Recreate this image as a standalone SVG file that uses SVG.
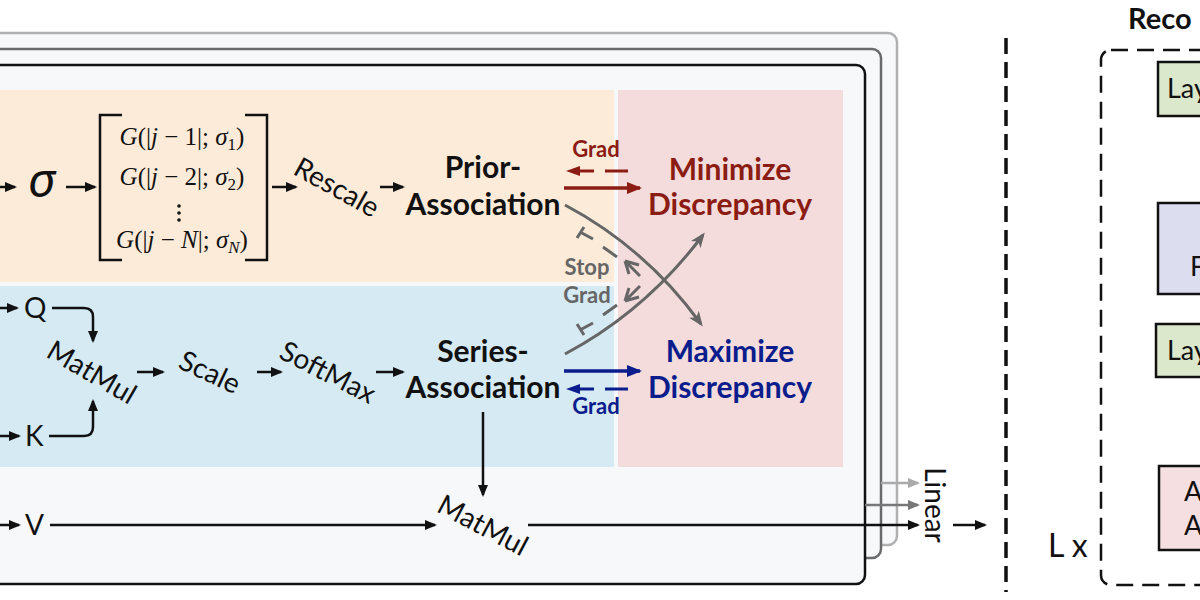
<svg xmlns="http://www.w3.org/2000/svg" width="1200" height="600" viewBox="0 0 1200 600">
<defs>
<style>
.t{font-family:Lato,"Open Sans","Liberation Sans",sans-serif;fill:#111}
.r{font-size:28px}
.big{font-size:30px;font-weight:bold;text-anchor:middle}
.g{font-size:22px;font-weight:bold;text-anchor:middle}
.m{font-family:"Liberation Serif","DejaVu Serif",serif;font-size:25px;fill:#111}
.i{font-style:italic}
.ln{stroke:#111;stroke-width:2.5;fill:none}
.frame{fill:#f7f8fa;stroke-width:2.5}
.box{stroke:#111;stroke-width:2.5}
.gc{stroke:#666;stroke-width:3;fill:none}
.red{fill:#8b1c13}
.blue{fill:#0b1d8c}
.gray{fill:#666}
</style>
<marker id="ah" markerUnits="userSpaceOnUse" markerWidth="13" markerHeight="10" refX="10" refY="5" orient="auto"><path d="M0,0 L12,5 L0,10 z" fill="#111"/></marker>
<marker id="ahg1" markerUnits="userSpaceOnUse" markerWidth="13" markerHeight="10" refX="10" refY="5" orient="auto"><path d="M0,0 L12,5 L0,10 z" fill="#777"/></marker>
<marker id="ahg2" markerUnits="userSpaceOnUse" markerWidth="13" markerHeight="10" refX="10" refY="5" orient="auto"><path d="M0,0 L12,5 L0,10 z" fill="#aaa"/></marker>
<marker id="ahs" markerUnits="userSpaceOnUse" markerWidth="15" markerHeight="12" refX="12" refY="6" orient="auto"><path d="M0,0 L15,6 L0,12 L4,6 z" fill="#666"/></marker>
<marker id="ahr" markerUnits="userSpaceOnUse" markerWidth="15" markerHeight="12" refX="13" refY="6" orient="auto"><path d="M0,0 L15,6 L0,12 z" fill="#8b1c13"/></marker>
<marker id="ahb" markerUnits="userSpaceOnUse" markerWidth="15" markerHeight="12" refX="13" refY="6" orient="auto"><path d="M0,0 L15,6 L0,12 z" fill="#0b1d8c"/></marker>
</defs>

<!-- stacked frames -->
<g id="frames">
<rect class="frame" x="-20" y="33" width="917" height="512" rx="9" stroke="#b0b0b0"/>
<rect class="frame" x="-20" y="49" width="901" height="509" rx="9" stroke="#6a6a6a"/>
<rect class="frame" x="-20" y="65" width="885" height="519" rx="9" stroke="#111"/>
</g>

<g id="regions">
<rect x="-20" y="90" width="634" height="192" fill="#fcebd9"/>
<rect x="-20" y="286" width="634" height="181" fill="#d5eaf3"/>
<rect x="618" y="90" width="225" height="377" fill="#f5dcdc"/>
</g>

<g id="node-sigma"><text x="28" y="197" font-family="'Noto Sans','DejaVu Sans',sans-serif" font-style="italic" font-size="48" fill="#111">σ</text></g>

<g id="node-matrix">
<path class="ln" d="M122,115 H100 V260 H122 M245,115 H267 V260 H245"/>
<text class="m" x="182" y="145" text-anchor="middle"><tspan class="i">G</tspan>(|<tspan class="i">j</tspan> − 1|; <tspan class="i">σ</tspan><tspan font-size="17" dy="5">1</tspan><tspan dy="-5">)</tspan></text>
<text class="m" x="182" y="185" text-anchor="middle"><tspan class="i">G</tspan>(|<tspan class="i">j</tspan> − 2|; <tspan class="i">σ</tspan><tspan font-size="17" dy="5">2</tspan><tspan dy="-5">)</tspan></text>
<circle cx="179" cy="206" r="1.8" fill="#111"/><circle cx="179" cy="213" r="1.8" fill="#111"/><circle cx="179" cy="220" r="1.8" fill="#111"/>
<text class="m" x="182" y="248" text-anchor="middle"><tspan class="i">G</tspan>(|<tspan class="i">j</tspan> − <tspan class="i">N</tspan>|; <tspan class="i">σ</tspan><tspan class="i" font-size="17" dy="5">N</tspan><tspan dy="-5">)</tspan></text>
</g>

<g id="node-rescale"><text class="t r" text-anchor="middle" transform="translate(337,187) rotate(29)" y="10">Rescale</text></g>

<g id="node-prior"><text class="t big" x="483" y="178">Prior-</text><text class="t big" x="483" y="215">Association</text></g>
<g id="node-minimize"><text class="t big red" x="730" y="180">Minimize</text><text class="t big red" x="730" y="215">Discrepancy</text></g>
<g id="node-series"><text class="t big" x="483" y="362">Series-</text><text class="t big" x="483" y="398">Association</text></g>
<g id="node-maximize"><text class="t big blue" x="730" y="362">Maximize</text><text class="t big blue" x="730" y="398">Discrepancy</text></g>

<g id="node-q"><text class="t r" x="24" y="318">Q</text></g>
<g id="node-k"><text class="t r" x="25" y="446">K</text></g>
<g id="node-v"><text class="t r" x="25" y="535">V</text></g>
<g id="node-matmul1"><text class="t r" text-anchor="middle" transform="translate(92,372) rotate(30)" y="10">MatMul</text></g>
<g id="node-scale"><text class="t r" text-anchor="middle" transform="translate(210,372) rotate(25)" y="10">Scale</text></g>
<g id="node-softmax"><text class="t r" text-anchor="middle" transform="translate(328,372) rotate(27)" y="10">SoftMax</text></g>
<g id="node-matmul2"><text class="t r" text-anchor="middle" transform="translate(483,525) rotate(28)" y="10">MatMul</text></g>
<g id="node-linear"><text class="t r" text-anchor="middle" transform="translate(935,505) rotate(90)" y="10">Linear</text></g>

<g id="labels">
<text class="t g red" x="596" y="157">Grad</text>
<text class="t g blue" x="596" y="414">Grad</text>
<text class="t g gray" x="587" y="275">Stop</text>
<text class="t g gray" x="587" y="303">Grad</text>
</g>

<g id="connectors">
<line class="ln" x1="-2" y1="187" x2="15" y2="187" marker-end="url(#ah)"/>
<line class="ln" x1="66" y1="187" x2="95" y2="187" marker-end="url(#ah)"/>
<line class="ln" x1="272" y1="187" x2="296" y2="187" marker-end="url(#ah)"/>
<line class="ln" x1="380" y1="187" x2="403" y2="187" marker-end="url(#ah)"/>
<line class="ln" x1="-2" y1="308" x2="17" y2="308" marker-end="url(#ah)"/>
<path class="ln" d="M52,308 H84 Q93,308 93,317 V341" marker-end="url(#ah)"/>
<line class="ln" x1="-2" y1="436" x2="19" y2="436" marker-end="url(#ah)"/>
<path class="ln" d="M49,436 H84 Q93,436 93,427 V401" marker-end="url(#ah)"/>
<line class="ln" x1="137" y1="372" x2="163" y2="372" marker-end="url(#ah)"/>
<line class="ln" x1="257" y1="372" x2="281" y2="372" marker-end="url(#ah)"/>
<line class="ln" x1="376" y1="372" x2="403" y2="372" marker-end="url(#ah)"/>
<line class="ln" x1="-2" y1="525" x2="19" y2="525" marker-end="url(#ah)"/>
<line class="ln" x1="50" y1="525" x2="435" y2="525" marker-end="url(#ah)"/>
<line class="ln" x1="483" y1="412" x2="483" y2="495" marker-end="url(#ah)"/>
<line class="ln" x1="528" y1="525" x2="918" y2="525" marker-end="url(#ah)"/>
<line stroke="#777" stroke-width="2.5" x1="865" y1="505" x2="918" y2="505" marker-end="url(#ahg1)"/>
<line stroke="#aaa" stroke-width="2.5" x1="881" y1="483" x2="918" y2="483" marker-end="url(#ahg2)"/>
<line class="ln" x1="953" y1="525" x2="985" y2="525" marker-end="url(#ah)"/>

<!-- red grad arrows -->
<line stroke="#8b1c13" stroke-width="3.5" x1="564" y1="188" x2="640" y2="188" marker-end="url(#ahr)"/>
<path stroke="#8b1c13" stroke-width="3" fill="none" d="M628,171 H605 M594,171 H578"/>
<path fill="#8b1c13" d="M566,171 L580,166 L580,176 z"/>
<!-- blue grad arrows -->
<line stroke="#0b1d8c" stroke-width="3.5" x1="564" y1="371" x2="640" y2="371" marker-end="url(#ahb)"/>
<path stroke="#0b1d8c" stroke-width="3" fill="none" d="M628,389 H605 M594,389 H578"/>
<path fill="#0b1d8c" d="M566,389 L580,384 L580,394 z"/>

<!-- cross curves -->
<path class="gc" d="M565,205 Q646,248 701,324" marker-end="url(#ahs)"/>
<path class="gc" d="M565,354 Q646,311 703,235" marker-end="url(#ahs)"/>

<!-- stop grad -->
<path class="gc" d="M640,276 L625,261 M625,261 L639,265 M625,261 L629,274 M617,257 L603,247 M593,239 L580,232 M577,238 L584,227"/>
<path class="gc" d="M640,286 L625,301 M625,301 L639,297 M625,301 L629,288 M617,305 L603,315 M593,323 L580,330 M577,324 L584,335"/>
</g>

<g id="divider"><line x1="1006" y1="38" x2="1006" y2="592" stroke="#111" stroke-width="3.5" stroke-dasharray="16 8"/></g>

<g id="node-reconstruction">
<text class="t" x="1128" y="29" font-size="29" font-weight="bold">Reco</text>
<rect x="1101" y="50" width="200" height="535" rx="10" fill="none" stroke="#111" stroke-width="2.5" stroke-dasharray="17 9"/>
<text class="t" x="1048" y="557" font-size="32">L x</text>
</g>
<g id="node-layernorm1"><rect class="box" x="1158" y="62" width="60" height="54" fill="#dbe8cb"/><text class="t" x="1167" y="98" font-size="27">Lay</text></g>
<g id="node-ffn"><rect class="box" x="1158" y="203" width="60" height="91" fill="#dcdeef"/><text class="t" x="1190" y="276" font-size="27">F</text></g>
<g id="node-layernorm2"><rect class="box" x="1156" y="324" width="60" height="53" fill="#dbe8cb"/><text class="t" x="1167" y="360" font-size="27">Lay</text></g>
<g id="node-anomaly"><rect class="box" x="1159" y="466" width="60" height="84" fill="#f6dfe0"/><text class="t" x="1184" y="501" font-size="27">A</text><text class="t" x="1184" y="535" font-size="27">A</text></g>
</svg>
